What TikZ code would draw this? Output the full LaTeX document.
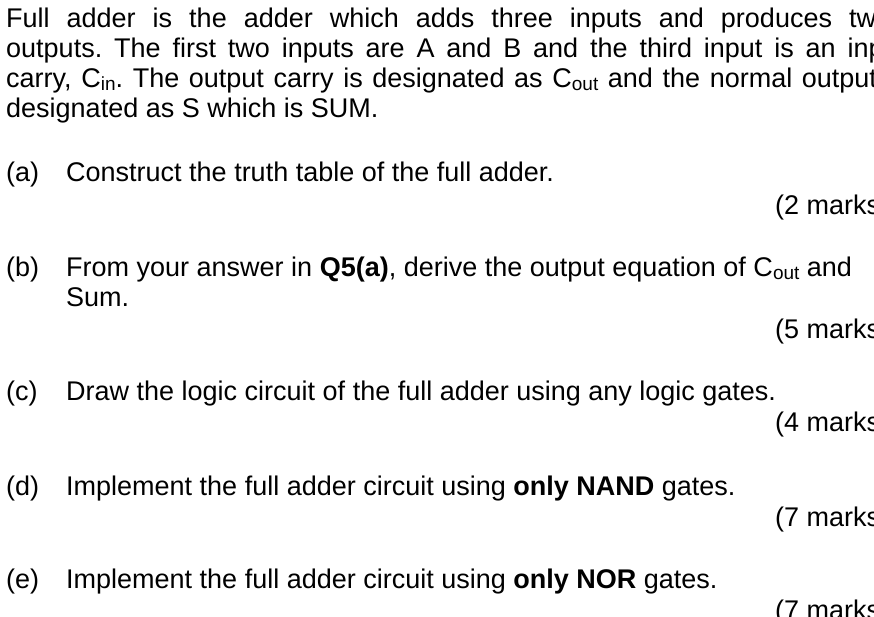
\documentclass[tikz,border=0pt]{standalone}
\usepackage{fontspec}
\setmainfont{Liberation Sans}
\frenchspacing
\newcommand{\sbs}[1]{\raisebox{-0.25ex}{\fontsize{19}{19}\selectfont #1}}
\begin{document}
\begin{tikzpicture}[x=1pt,y=-1pt,
  txt/.style={anchor=base west,inner sep=0pt,font=\fontsize{27}{30}\selectfont}]
\useasboundingbox (0,0) rectangle (874,616);
\clip (0,0) rectangle (874,616);
\node[txt] (l1) at (6,27) {\hbox to 885pt{Full adder is the adder which adds three inputs and produces two}};
\node[txt] (l2) at (6,57) {\hbox to 900pt{outputs. The first two inputs are A and B and the third input is an input}};
\node[txt] (l3) at (6,87) {\hbox to 900pt{carry, C\sbs{in}. The output carry is designated as C\sbs{out} and the normal output is}};
\node[txt] (l4) at (6,117) {designated as S which is SUM.};
\node[txt] (a) at (6,181) {(a)};
\node[txt] (at) at (66,181) {Construct the truth table of the full adder.};
\node[txt] (am) at (775,214) {(2 marks)};
\node[txt] (b) at (6,276) {(b)};
\node[txt] (bt) at (66,276) {From your answer in \textbf{Q5(a)}, derive the output equation of C\sbs{out} and};
\node[txt] (bt2) at (66,306) {Sum.};
\node[txt] (bm) at (775,338) {(5 marks)};
\node[txt] (c) at (6,400) {(c)};
\node[txt] (ct) at (66,400) {Draw the logic circuit of the full adder using any logic gates.};
\node[txt] (cm) at (775,431) {(4 marks)};
\node[txt] (d) at (6,495) {(d)};
\node[txt] (dt) at (66,495) {Implement the full adder circuit using \textbf{only NAND} gates.};
\node[txt] (dm) at (775,526) {(7 marks)};
\node[txt] (e) at (6,588) {(e)};
\node[txt] (et) at (66,588) {Implement the full adder circuit using \textbf{only NOR} gates.};
\node[txt] (em) at (775,619) {(7 marks)};
\end{tikzpicture}
\end{document}
